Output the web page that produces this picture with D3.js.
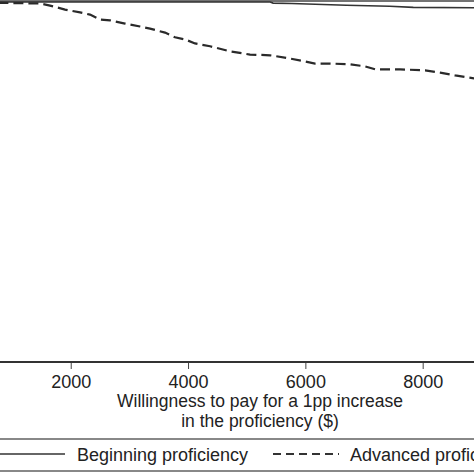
<!DOCTYPE html>
<html>
<head>
<meta charset="utf-8">
<script src="https://cdn.jsdelivr.net/npm/d3@7"></script>
<style>
  html, body { margin: 0; padding: 0; background: #fff; }
  #chart { width: 474px; height: 474px; overflow: hidden; }
  text { font-family: "Liberation Sans", Arial, sans-serif; fill: #222; }
</style>
</head>
<body>
<div id="chart"></div>
<script>
'use strict';

// Willingness to pay ($) and share still willing
const beginWTP   = [0, 5400, 5450, 5770, 6700, 7440, 7840, 9000];
const beginShare = [1.0, 1.0, 0.997, 0.996, 0.991, 0.988, 0.985, 0.984];

const advWTP   = [0, 600, 1476, 1647, 1903, 2159, 2329, 2500, 2670, 2926, 3182, 3352, 3608,
                  3778, 3949, 4119, 4375, 4716, 5057, 5398, 5739, 5995, 6165, 6421, 6762,
                  7018, 7188, 7615, 8041, 8297, 8553, 8877, 9000];
const advShare = [1.0, 0.998, 0.996, 0.990, 0.979, 0.971, 0.965, 0.951, 0.949, 0.940, 0.932, 0.926, 0.915,
                  0.902, 0.896, 0.885, 0.877, 0.863, 0.854, 0.852, 0.843, 0.835, 0.829, 0.829, 0.827,
                  0.821, 0.813, 0.813, 0.810, 0.804, 0.796, 0.788, 0.785];

const xTicks = [2000, 4000, 6000, 8000];
const xTitle = ['Willingness to pay for a 1pp increase', 'in the proficiency ($)'];
const legendLabels = ['Beginning proficiency', 'Advanced proficiency'];

const W = 474, H = 474;
const PLOT = { top: 0, bottom: 362, left: 0, right: W };

const x = d3.scaleLinear().domain([0, 10000]).range([-46.6, 540]);
const y = d3.scaleLinear().domain([0, 1]).range([362, 2]);

const svg = d3.select('#chart').append('svg')
  .attr('width', W).attr('height', H);

svg.append('clipPath').attr('id', 'plotclip')
  .append('rect')
  .attr('x', PLOT.left).attr('y', PLOT.top)
  .attr('width', PLOT.right - PLOT.left).attr('height', PLOT.bottom - PLOT.top);

// Top frame line
svg.append('line')
  .attr('x1', 0).attr('x2', W).attr('y1', 1).attr('y2', 1)
  .attr('stroke', '#444').attr('stroke-width', 1.5);

const lineGen = d3.line()
  .x(d => x(d[0]))
  .y(d => y(d[1]));

const plot = svg.append('g').attr('clip-path', 'url(#plotclip)');

plot.append('path')
  .datum(d3.zip(beginWTP, beginShare))
  .attr('fill', 'none')
  .attr('stroke', '#333')
  .attr('stroke-width', 1.6)
  .attr('d', lineGen);

plot.append('path')
  .datum(d3.zip(advWTP, advShare))
  .attr('fill', 'none')
  .attr('stroke', '#2a2a2a')
  .attr('stroke-width', 2.2)
  .attr('stroke-dasharray', '10,5')
  .attr('d', lineGen);

// X axis
const xAxis = svg.append('g')
  .attr('transform', `translate(0,${PLOT.bottom})`)
  .call(d3.axisBottom(x).tickValues(xTicks).tickSize(7).tickPadding(6).tickFormat(d3.format('d')));

xAxis.select('.domain').remove();
xAxis.append('line')
  .attr('x1', 0).attr('x2', W).attr('y1', 0).attr('y2', 0)
  .attr('stroke', '#333').attr('stroke-width', 2);
xAxis.selectAll('.tick line').attr('stroke', '#444').attr('stroke-width', 1);
xAxis.selectAll('.tick text')
  .attr('font-size', '18px')
  .attr('font-family', '"Liberation Sans", Arial, sans-serif')
  .attr('fill', '#222');

// Axis title
svg.append('text')
  .attr('x', 260).attr('y', 407)
  .attr('text-anchor', 'middle')
  .attr('font-size', '17.5px')
  .text(xTitle[0]);
svg.append('text')
  .attr('x', 260).attr('y', 427)
  .attr('text-anchor', 'middle')
  .attr('font-size', '17.5px')
  .text(xTitle[1]);

// Legend box
svg.append('line')
  .attr('x1', 0).attr('x2', W).attr('y1', 439).attr('y2', 439)
  .attr('stroke', '#888').attr('stroke-width', 2);
svg.append('line')
  .attr('x1', 0).attr('x2', W).attr('y1', 471).attr('y2', 471)
  .attr('stroke', '#888').attr('stroke-width', 2);

const legend = svg.append('g');
legend.append('line')
  .attr('x1', 0).attr('x2', 65).attr('y1', 454).attr('y2', 454)
  .attr('stroke', '#333').attr('stroke-width', 1.6);
legend.append('text')
  .attr('x', 77).attr('y', 461)
  .attr('font-size', '18px')
  .text(legendLabels[0]);
legend.append('line')
  .attr('x1', 273).attr('x2', 339).attr('y1', 454).attr('y2', 454)
  .attr('stroke', '#333').attr('stroke-width', 2)
  .attr('stroke-dasharray', '8,5');
legend.append('text')
  .attr('x', 350).attr('y', 461)
  .attr('font-size', '18px')
  .text(legendLabels[1]);
</script>
</body>
</html>
